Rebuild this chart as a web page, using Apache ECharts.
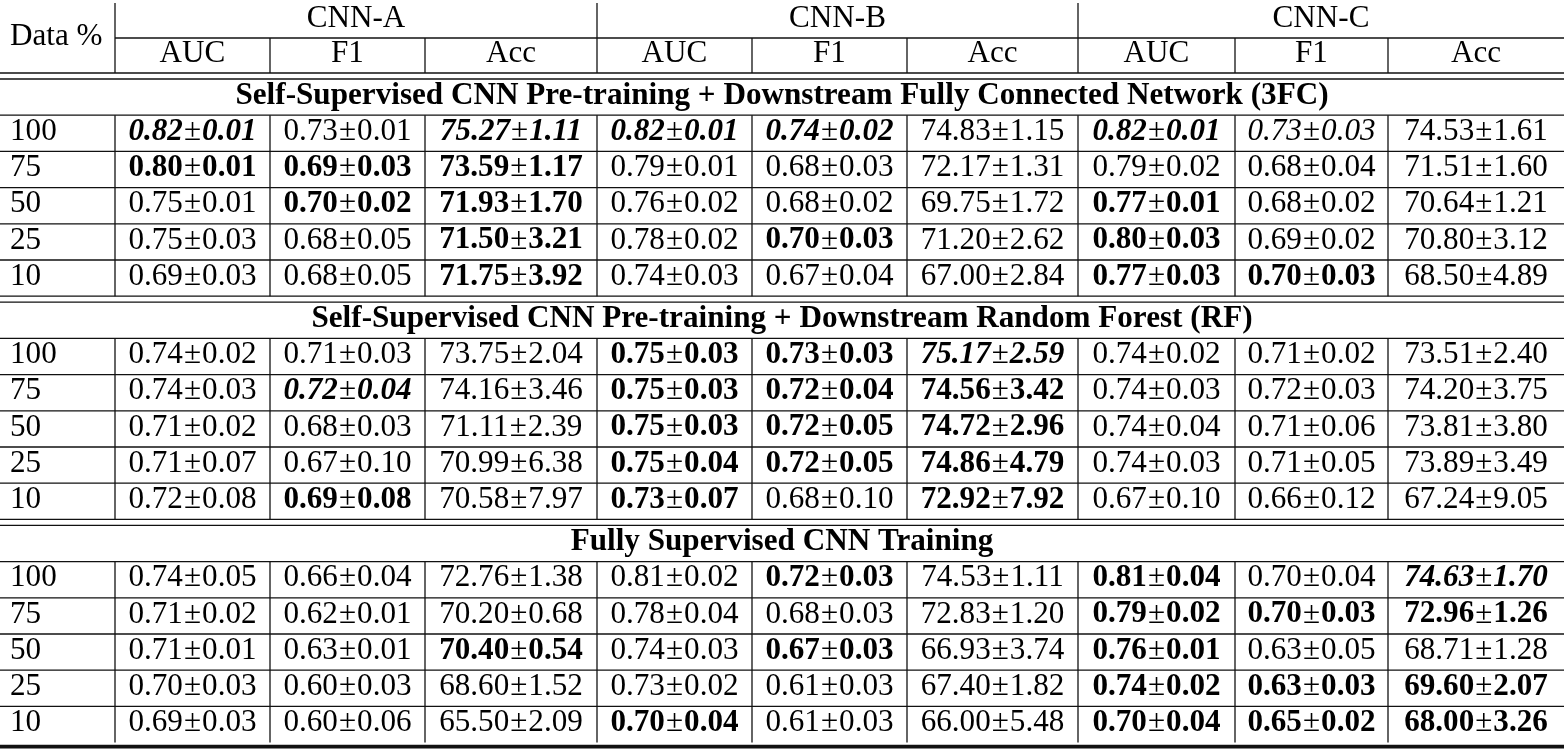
<!DOCTYPE html>
<html><head><meta charset="utf-8">
<script src="https://cdn.jsdelivr.net/npm/echarts@6/dist/echarts.min.js"></script>
<style>html,body{margin:0;padding:0;background:#fff}#chart{width:1564px;height:752px}</style>
</head><body><div id="chart"></div>
<script>
// ---------------- DATA ----------------
const MODELS = ['CNN-A', 'CNN-B', 'CNN-C'];
const METRICS = ['AUC', 'F1', 'Acc'];
const ROW_HEADER = 'Data %';
const DATA_PCT = ['100', '75', '50', '25', '10'];
const SECTION_TITLES = [
  'Self-Supervised CNN Pre-training + Downstream Fully Connected Network (3FC)',
  'Self-Supervised CNN Pre-training + Downstream Random Forest (RF)',
  'Fully Supervised CNN Training'
];
// values per row: CNN-A AUC, F1, Acc | CNN-B AUC, F1, Acc | CNN-C AUC, F1, Acc
const FC_VALUES = [
  ['0.82±0.01','0.73±0.01','75.27±1.11','0.82±0.01','0.74±0.02','74.83±1.15','0.82±0.01','0.73±0.03','74.53±1.61'],
  ['0.80±0.01','0.69±0.03','73.59±1.17','0.79±0.01','0.68±0.03','72.17±1.31','0.79±0.02','0.68±0.04','71.51±1.60'],
  ['0.75±0.01','0.70±0.02','71.93±1.70','0.76±0.02','0.68±0.02','69.75±1.72','0.77±0.01','0.68±0.02','70.64±1.21'],
  ['0.75±0.03','0.68±0.05','71.50±3.21','0.78±0.02','0.70±0.03','71.20±2.62','0.80±0.03','0.69±0.02','70.80±3.12'],
  ['0.69±0.03','0.68±0.05','71.75±3.92','0.74±0.03','0.67±0.04','67.00±2.84','0.77±0.03','0.70±0.03','68.50±4.89']
];
const RF_VALUES = [
  ['0.74±0.02','0.71±0.03','73.75±2.04','0.75±0.03','0.73±0.03','75.17±2.59','0.74±0.02','0.71±0.02','73.51±2.40'],
  ['0.74±0.03','0.72±0.04','74.16±3.46','0.75±0.03','0.72±0.04','74.56±3.42','0.74±0.03','0.72±0.03','74.20±3.75'],
  ['0.71±0.02','0.68±0.03','71.11±2.39','0.75±0.03','0.72±0.05','74.72±2.96','0.74±0.04','0.71±0.06','73.81±3.80'],
  ['0.71±0.07','0.67±0.10','70.99±6.38','0.75±0.04','0.72±0.05','74.86±4.79','0.74±0.03','0.71±0.05','73.89±3.49'],
  ['0.72±0.08','0.69±0.08','70.58±7.97','0.73±0.07','0.68±0.10','72.92±7.92','0.67±0.10','0.66±0.12','67.24±9.05']
];
const FS_VALUES = [
  ['0.74±0.05','0.66±0.04','72.76±1.38','0.81±0.02','0.72±0.03','74.53±1.11','0.81±0.04','0.70±0.04','74.63±1.70'],
  ['0.71±0.02','0.62±0.01','70.20±0.68','0.78±0.04','0.68±0.03','72.83±1.20','0.79±0.02','0.70±0.03','72.96±1.26'],
  ['0.71±0.01','0.63±0.01','70.40±0.54','0.74±0.03','0.67±0.03','66.93±3.74','0.76±0.01','0.63±0.05','68.71±1.28'],
  ['0.70±0.03','0.60±0.03','68.60±1.52','0.73±0.02','0.61±0.03','67.40±1.82','0.74±0.02','0.63±0.03','69.60±2.07'],
  ['0.69±0.03','0.60±0.06','65.50±2.09','0.70±0.04','0.61±0.03','66.00±5.48','0.70±0.04','0.65±0.02','68.00±3.26']
];
// emphasis: n = normal, b = bold, bi = bold italic, i = italic
const FC_EMPH = [
  ['bi','n','bi','bi','bi','n','bi','i','n'],
  ['b','b','b','n','n','n','n','n','n'],
  ['n','b','b','n','n','n','b','n','n'],
  ['n','n','b','n','b','n','b','n','n'],
  ['n','n','b','n','n','n','b','b','n']
];
const RF_EMPH = [
  ['n','n','n','b','b','bi','n','n','n'],
  ['n','bi','n','b','b','b','n','n','n'],
  ['n','n','n','b','b','b','n','n','n'],
  ['n','n','n','b','b','b','n','n','n'],
  ['n','b','n','b','n','b','n','n','n']
];
const FS_EMPH = [
  ['n','n','n','n','b','n','b','n','bi'],
  ['n','n','n','n','n','n','b','b','b'],
  ['n','n','b','n','b','n','b','n','n'],
  ['n','n','n','n','n','n','b','b','b'],
  ['n','n','n','b','n','n','b','b','b']
];
const SECTION_VALUES = [FC_VALUES, RF_VALUES, FS_VALUES];
const SECTION_EMPH = [FC_EMPH, RF_EMPH, FS_EMPH];

// ---------------- LAYOUT / STYLE ----------------
const W = 1564, H = 752;
const COL_EDGES = [0, 115, 270, 425, 597, 752, 907, 1078, 1235, 1388, 1564];
const TOP = 3, HEAD_H = 35, ROW_H = 36.2, GAP = 6, PAD_LEFT = 10, TEXT_DY = -1.5;
const FONT = 'Liberation Serif', FS = 31, SX = 1.005, PM_PAD = 1, INK = '#000', RULE = '#111';

let y = TOP;
const hdr1 = [y, y + HEAD_H]; y += HEAD_H;
const hdr2 = [y, y + HEAD_H]; y += HEAD_H;
const secs = [];
for (let s = 0; s < SECTION_TITLES.length; s++) {
  const dbl = y; y += GAP;
  const title = [y, y + ROW_H]; y += ROW_H;
  const rows = [];
  for (let r = 0; r < DATA_PCT.length; r++) { rows.push([y, y + ROW_H]); y += ROW_H; }
  secs.push({ dbl, title, rows });
}
const tableBottom = y;

// cells: [x, y, text, emph, align, isValue]
const cells = [];
const mid = a => (a[0] + a[1]) / 2 + TEXT_DY;
cells.push([COL_EDGES[0] + PAD_LEFT, (hdr1[0] + hdr2[1]) / 2 + TEXT_DY, ROW_HEADER, 'n', 'left']);
MODELS.forEach((m, i) => {
  cells.push([(COL_EDGES[1 + 3 * i] + COL_EDGES[4 + 3 * i]) / 2, mid(hdr1), m, 'n', 'center']);
  METRICS.forEach((t, j) => {
    const c = 1 + 3 * i + j;
    cells.push([(COL_EDGES[c] + COL_EDGES[c + 1]) / 2, mid(hdr2), t, 'n', 'center']);
  });
});
secs.forEach((sec, s) => {
  cells.push([W / 2, mid(sec.title), SECTION_TITLES[s], 'b', 'center']);
  sec.rows.forEach((rw, r) => {
    cells.push([COL_EDGES[0] + PAD_LEFT, mid(rw), DATA_PCT[r], 'n', 'left']);
    SECTION_VALUES[s][r].forEach((v, k) => {
      cells.push([(COL_EDGES[k + 1] + COL_EDGES[k + 2]) / 2, mid(rw), v, SECTION_EMPH[s][r][k], 'center', 1]);
    });
  });
});

// rules: [x1, y1, x2, y2, width]
const LW = 1.3;
const rules = [];
rules.push([COL_EDGES[1], hdr1[1], W, hdr1[1], LW]);
[1, 4, 7].forEach(c => rules.push([COL_EDGES[c], hdr1[0], COL_EDGES[c], hdr2[1], LW]));
[2, 3, 5, 6, 8, 9].forEach(c => rules.push([COL_EDGES[c], hdr2[0], COL_EDGES[c], hdr2[1], LW]));
secs.forEach((sec) => {
  rules.push([0, sec.dbl, W, sec.dbl, LW]);
  rules.push([0, sec.dbl + GAP, W, sec.dbl + GAP, LW]);
  rules.push([0, sec.title[1], W, sec.title[1], LW]);
  sec.rows.forEach((rw, r) => { if (r < sec.rows.length - 1) rules.push([0, rw[1], W, rw[1], LW]); });
  for (let c = 1; c < COL_EDGES.length - 1; c++) {
    rules.push([COL_EDGES[c], sec.rows[0][0], COL_EDGES[c], sec.rows[sec.rows.length - 1][1], LW]);
  }
});
rules.push([0, tableBottom + 4, W, tableBottom + 4, 3.6]);

const rich = {
  n: { fontFamily: FONT, fontSize: FS, fontWeight: 'normal', fontStyle: 'normal', fill: INK },
  pm: { fontFamily: FONT, fontSize: FS, fontWeight: 'normal', fontStyle: 'normal', fill: INK, padding: [0, PM_PAD, 0, PM_PAD] },
  b: { fontFamily: FONT, fontSize: FS, fontWeight: 'bold', fontStyle: 'normal', fill: INK },
  bi: { fontFamily: FONT, fontSize: FS, fontWeight: 'bold', fontStyle: 'italic', fill: INK },
  i: { fontFamily: FONT, fontSize: FS, fontWeight: 'normal', fontStyle: 'italic', fill: INK }
};
function richText(text, emph, isValue) {
  if (isValue && text.indexOf('±') >= 0) {
    const p = text.split('±');
    return '{' + emph + '|' + p[0] + '}{pm|±}{' + emph + '|' + p[1] + '}';
  }
  return '{' + emph + '|' + text + '}';
}

const chart = echarts.init(document.getElementById('chart'), null, { renderer: 'canvas' });
chart.setOption({
  animation: false,
  backgroundColor: '#fff',
  grid: { left: 0, right: 0, top: 0, bottom: 0 },
  xAxis: { type: 'value', min: 0, max: W, show: false },
  yAxis: { type: 'value', min: 0, max: H, inverse: true, show: false },
  series: [
    {
      type: 'custom', silent: true,
      data: rules,
      renderItem: (params, api) => {
        const r = rules[params.dataIndex];
        const p1 = api.coord([r[0], r[1]]), p2 = api.coord([r[2], r[3]]);
        return { type: 'line', shape: { x1: p1[0], y1: p1[1], x2: p2[0], y2: p2[1] },
          style: { stroke: RULE, lineWidth: r[4] } };
      }
    },
    {
      type: 'custom', silent: true,
      data: cells.map(c => [c[0], c[1]]),
      renderItem: (params, api) => {
        const c = cells[params.dataIndex];
        const p = api.coord([c[0], c[1]]);
        return { type: 'text', x: p[0], y: p[1], scaleX: SX,
          style: { x: 0, y: 0, text: richText(c[2], c[3], c[5]), rich: rich, align: c[4], verticalAlign: 'middle',
            fontFamily: FONT, fontSize: FS, fill: INK } };
      }
    }
  ]
});
</script></body></html>
